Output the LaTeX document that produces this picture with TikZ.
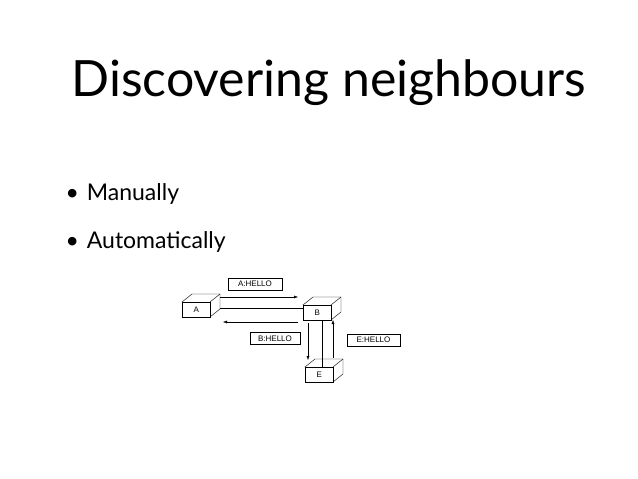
\documentclass[tikz,border=0pt]{standalone}
\usepackage{fontspec}
\setmainfont{Lato}
\newfontfamily\arialf{Liberation Sans}
\begin{document}
\begin{tikzpicture}[x=1pt,y=-1pt,
  lbl/.style={draw,thin,inner sep=0pt,minimum width=#1,minimum height=12pt,font=\arialf\fontsize{8}{9}\selectfont},
  arr/.style={-{Latex[length=4pt,width=3pt]},thin},
  ln/.style={thin}]
\usetikzlibrary{arrows.meta}
\useasboundingbox (0,0) rectangle (638,479);
\node[anchor=base west,font=\fontsize{50}{56}\selectfont] (t) at (68,96) {Discovering neighbours};
\node[anchor=base west,font=\fontsize{23}{26}\selectfont] (b1) at (62,200) {\textbullet\hspace{8pt}Manually};
\node[anchor=base west,font=\fontsize{23}{26}\selectfont] (b2) at (62,248) {\textbullet\hspace{8pt}Automatically};
% boxes
\newcommand\cube[5]{% name, x, y, w, label
  \draw[thin,fill=white] (#2,#3) -- ++(10,-8) -- ++(#4,0) -- ++(0,15) -- ++(-10,8) -- cycle;
  \draw[thin] (#2+#4,#3) -- ++(10,-8);
  \node[draw,thin,fill=white,minimum width=#4 pt,minimum height=15pt,inner sep=0pt,anchor=north west,font=\arialf\fontsize{8}{9}\selectfont] (#1) at (#2,#3) {#5};}
\cube{A}{182}{302}{28}{A}
\cube{B}{303}{305}{28}{B}
\cube{E}{305}{367}{28}{E}
\coordinate (a1) at (220,297); \coordinate (b1e) at (298,297);
\draw[arr] (a1) -- (b1e);
\coordinate (a2) at (298,322); \coordinate (b2e) at (223,322);
\draw[arr] (a2) -- (b2e);
\coordinate (l1) at (220,308); \draw[ln] (l1) -- (B.west|-l1);
\coordinate (v1) at (322,320); \draw[ln] (v1) -- (322,367);
\coordinate (d1) at (308,323); \coordinate (d2) at (308,360); \draw[arr] (d1) -- (d2);
\coordinate (u1) at (333,358); \coordinate (u2) at (333,320); \draw[arr] (u1) -- (u2);
\node[lbl=54pt] (la) at (255,284) {A:HELLO};
\node[lbl=50pt] (lb) at (275,338.5) {B:HELLO};
\node[lbl=53pt] (le) at (373.5,340) {E:HELLO};
\end{tikzpicture}
\end{document}
